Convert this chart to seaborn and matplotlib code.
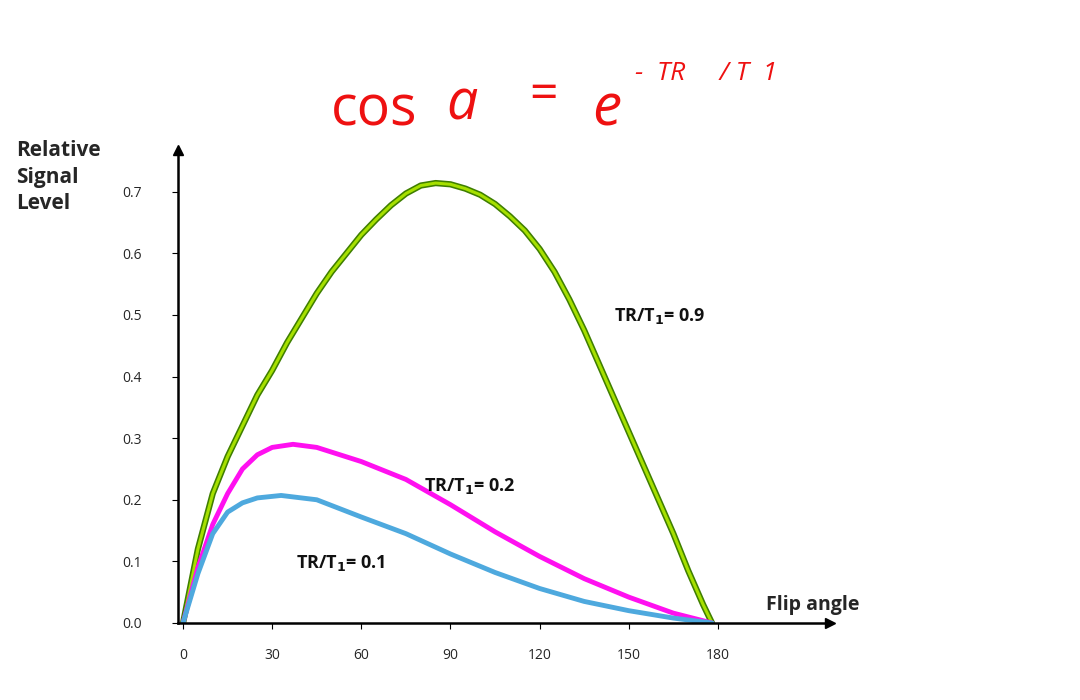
import numpy as np
import pandas as pd
import matplotlib
matplotlib.use("Agg")
import matplotlib.pyplot as plt
import seaborn as sns

# values (flip angle in degrees, relative signal)
angle_09 = [0, 5, 10, 15, 20, 25, 30, 35, 40, 45, 50, 55, 60, 65, 70, 75, 80, 85, 90, 95,
            100, 105, 110, 115, 120, 125, 130, 135, 140, 145, 150, 155, 160, 165, 170, 175, 178]
signal_09 = [0, 0.12, 0.21, 0.27, 0.32, 0.37, 0.41, 0.455, 0.495, 0.535, 0.57, 0.60, 0.63,
             0.655, 0.678, 0.697, 0.71, 0.714, 0.712, 0.705, 0.695, 0.68, 0.66, 0.637, 0.607,
             0.57, 0.525, 0.475, 0.42, 0.365, 0.31, 0.255, 0.2, 0.145, 0.085, 0.03, 0]

angle_02 = [0, 5, 10, 15, 20, 25, 30, 37, 45, 60, 75, 90, 105, 120, 135, 150, 165, 178]
signal_02 = [0, 0.09, 0.16, 0.21, 0.25, 0.273, 0.285, 0.29, 0.285, 0.262, 0.233, 0.192, 0.148,
             0.108, 0.072, 0.042, 0.016, 0]

angle_01 = [0, 5, 10, 15, 20, 25, 33, 45, 60, 75, 90, 105, 120, 135, 150, 165, 178]
signal_01 = [0, 0.08, 0.145, 0.18, 0.195, 0.203, 0.207, 0.20, 0.172, 0.145, 0.112, 0.082,
             0.056, 0.035, 0.02, 0.008, 0]

x_ticks = [0, 30, 60, 90, 120, 150, 180]
y_ticks = [0.0, 0.1, 0.2, 0.3, 0.4, 0.5, 0.6, 0.7]

sns.set_style("white")
plt.rcParams['font.family'] = ['Open Sans', 'DejaVu Sans']

fig = plt.figure(figsize=(10.8, 7), dpi=100)
ax = fig.add_axes([0.1648, 0.11, 0.6037, 0.676])

df09 = pd.DataFrame({"angle": angle_09, "signal": signal_09})
df02 = pd.DataFrame({"angle": angle_02, "signal": signal_02})
df01 = pd.DataFrame({"angle": angle_01, "signal": signal_01})

sns.lineplot(data=df09, x="angle", y="signal", ax=ax, color="#3f7f00", linewidth=4.5)
sns.lineplot(data=df09, x="angle", y="signal", ax=ax, color="#a6e000", linewidth=2.2)
sns.lineplot(data=df02, x="angle", y="signal", ax=ax, color="#ff10f0", linewidth=3.5)
sns.lineplot(data=df01, x="angle", y="signal", ax=ax, color="#4ea9de", linewidth=3.5)

ax.set_xlim(-1.7, 217.7)
ax.set_ylim(0, 0.768)
ax.set_xticks(x_ticks)
ax.set_yticks(y_ticks)
ax.set_yticklabels([f"{v:.1f}" for v in y_ticks])
ax.tick_params(axis="both", labelsize=10, length=4, direction="out",
               left=True, bottom=True, color="black")
ax.tick_params(axis="x", pad=14)
ax.tick_params(axis="y", pad=22)
ax.set_xlabel("")
ax.set_ylabel("")
for s in ["top", "right"]:
    ax.spines[s].set_visible(False)
for s in ["left", "bottom"]:
    ax.spines[s].set_color("black")
    ax.spines[s].set_linewidth(1.8)
ax.plot(1, 0, ">k", markersize=7, transform=ax.transAxes, clip_on=False)
ax.plot(0, 1, "^k", markersize=7, transform=ax.transAxes, clip_on=False)

bold = dict(fontsize=13, fontweight="bold", color="#111111")
ax.text(145, 0.49, r"TR/T$_\mathbf{1}$= 0.9", **bold)
ax.text(81, 0.215, r"TR/T$_\mathbf{1}$= 0.2", **bold)
ax.text(38, 0.09, r"TR/T$_\mathbf{1}$= 0.1", **bold)

fig.text(0.015, 0.80, "Relative\nSignal\nLevel", fontsize=15, fontweight="bold",
         va="top", linespacing=1.35)
fig.text(0.709, 0.128, "Flip angle", fontsize=14, fontweight="bold")

red = "#ee1111"
fig.text(0.306, 0.82, "cos", fontsize=40, color=red)
fig.text(0.413, 0.83, "a", fontsize=40, color=red, style="italic")
fig.text(0.49, 0.845, "=", fontsize=36, color=red)
fig.text(0.548, 0.82, "e", fontsize=42, color=red, style="italic")
fig.text(0.588, 0.885, "-  TR     / T  1", fontsize=19, color=red, style="italic")

fig.savefig("out.png", dpi=100)
